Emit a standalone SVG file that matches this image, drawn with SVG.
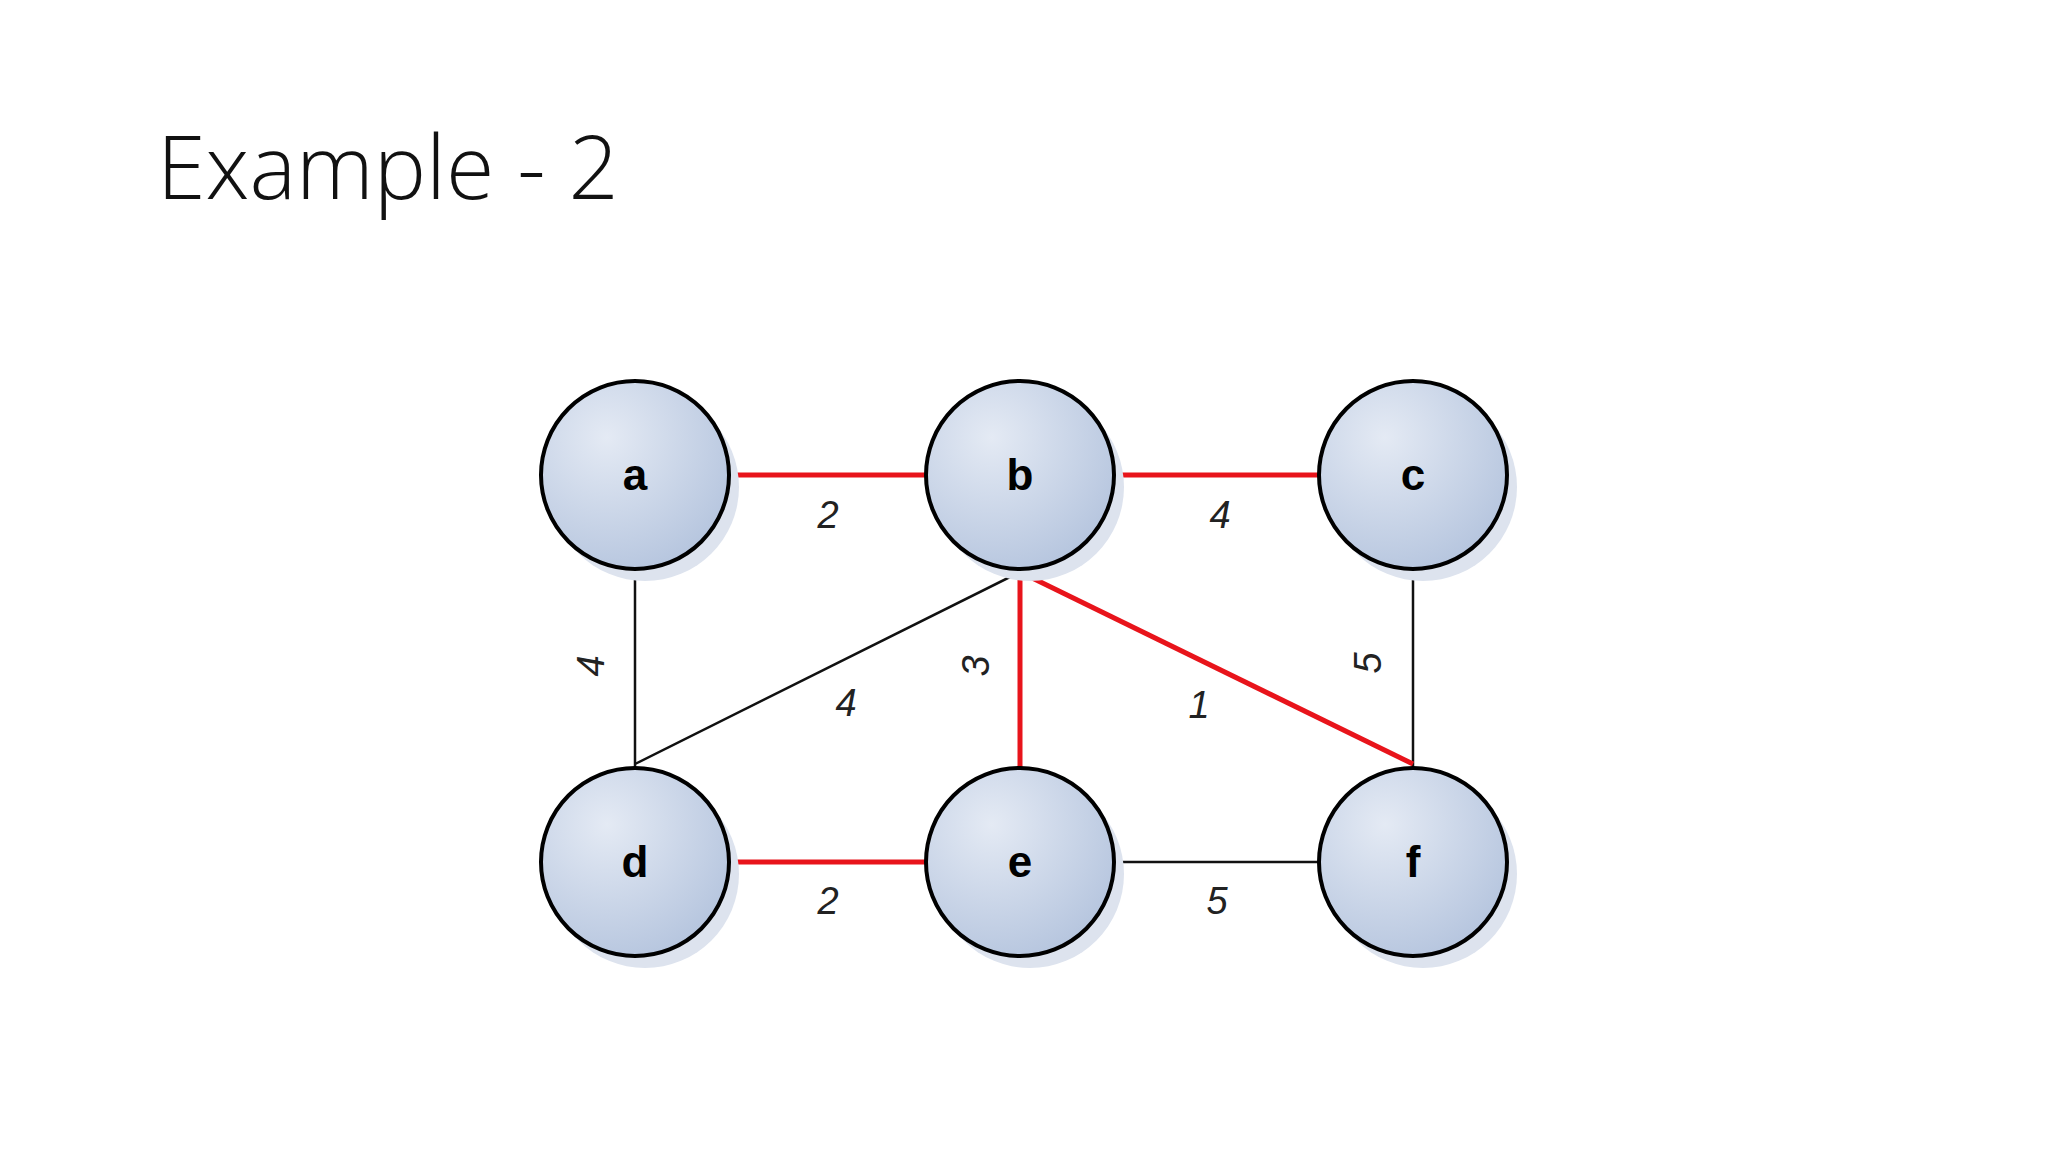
<svg xmlns="http://www.w3.org/2000/svg" width="2048" height="1152" viewBox="0 0 2048 1152">
<style>
.n{fill:url(#g);stroke:#000;stroke-width:4}
.sh{fill:#dde3ee}
.nl{font-family:"Liberation Sans",Arial,sans-serif;font-weight:bold;font-size:44px;text-anchor:middle}
.el{font-family:"Liberation Sans",Arial,sans-serif;font-style:italic;font-size:38px;text-anchor:middle;fill:#222}
.r{stroke:#e8141b;stroke-width:5}
.k{stroke:#111;stroke-width:2.5}
</style>
<defs>
<radialGradient id="g" cx="0.35" cy="0.3" r="0.8">
<stop offset="0" stop-color="#e4eaf4"/><stop offset="1" stop-color="#b3c3dd"/>
</radialGradient>
</defs>
<rect width="2048" height="1152" fill="#fff"/>
<text x="157" y="199" font-family="'Open Sans','Liberation Sans',sans-serif" font-size="88" font-weight="300" fill="#111">Example - 2</text>
<g id="edges">
<line class="r" x1="729" y1="475" x2="926" y2="475"/>
<line class="r" x1="1114" y1="475" x2="1319" y2="475"/>
<line class="k" x1="635" y1="569" x2="635" y2="768"/>
<line class="k" x1="1413" y1="569" x2="1413" y2="768"/>
<line class="k" x1="1020" y1="572" x2="635" y2="764"/>
<line class="r" x1="1020" y1="572" x2="1020" y2="768"/>
<line class="r" x1="1020" y1="572" x2="1413" y2="764"/>
<line class="r" x1="729" y1="862" x2="926" y2="862"/>
<line class="k" x1="1114" y1="862" x2="1319" y2="862"/>
<text class="el" x="828" y="528">2</text>
<text class="el" x="1220" y="528">4</text>
<text class="el" transform="translate(604,666) rotate(-90)">4</text>
<text class="el" x="846" y="716">4</text>
<text class="el" transform="translate(989,666) rotate(-90)">3</text>
<text class="el" x="1199" y="718">1</text>
<text class="el" transform="translate(1381,663) rotate(-90)">5</text>
<text class="el" x="828" y="914">2</text>
<text class="el" x="1217" y="914">5</text>
</g>
<g id="a"><circle class="sh" cx="645" cy="487" r="94"/><circle class="n" cx="635" cy="475" r="94"/><text class="nl" x="635" y="490">a</text></g>
<g id="b"><circle class="sh" cx="1030" cy="487" r="94"/><circle class="n" cx="1020" cy="475" r="94"/><text class="nl" x="1020" y="490">b</text></g>
<g id="c"><circle class="sh" cx="1423" cy="487" r="94"/><circle class="n" cx="1413" cy="475" r="94"/><text class="nl" x="1413" y="490">c</text></g>
<g id="d"><circle class="sh" cx="645" cy="874" r="94"/><circle class="n" cx="635" cy="862" r="94"/><text class="nl" x="635" y="877">d</text></g>
<g id="e"><circle class="sh" cx="1030" cy="874" r="94"/><circle class="n" cx="1020" cy="862" r="94"/><text class="nl" x="1020" y="877">e</text></g>
<g id="f"><circle class="sh" cx="1423" cy="874" r="94"/><circle class="n" cx="1413" cy="862" r="94"/><text class="nl" x="1413" y="877">f</text></g>
</svg>
